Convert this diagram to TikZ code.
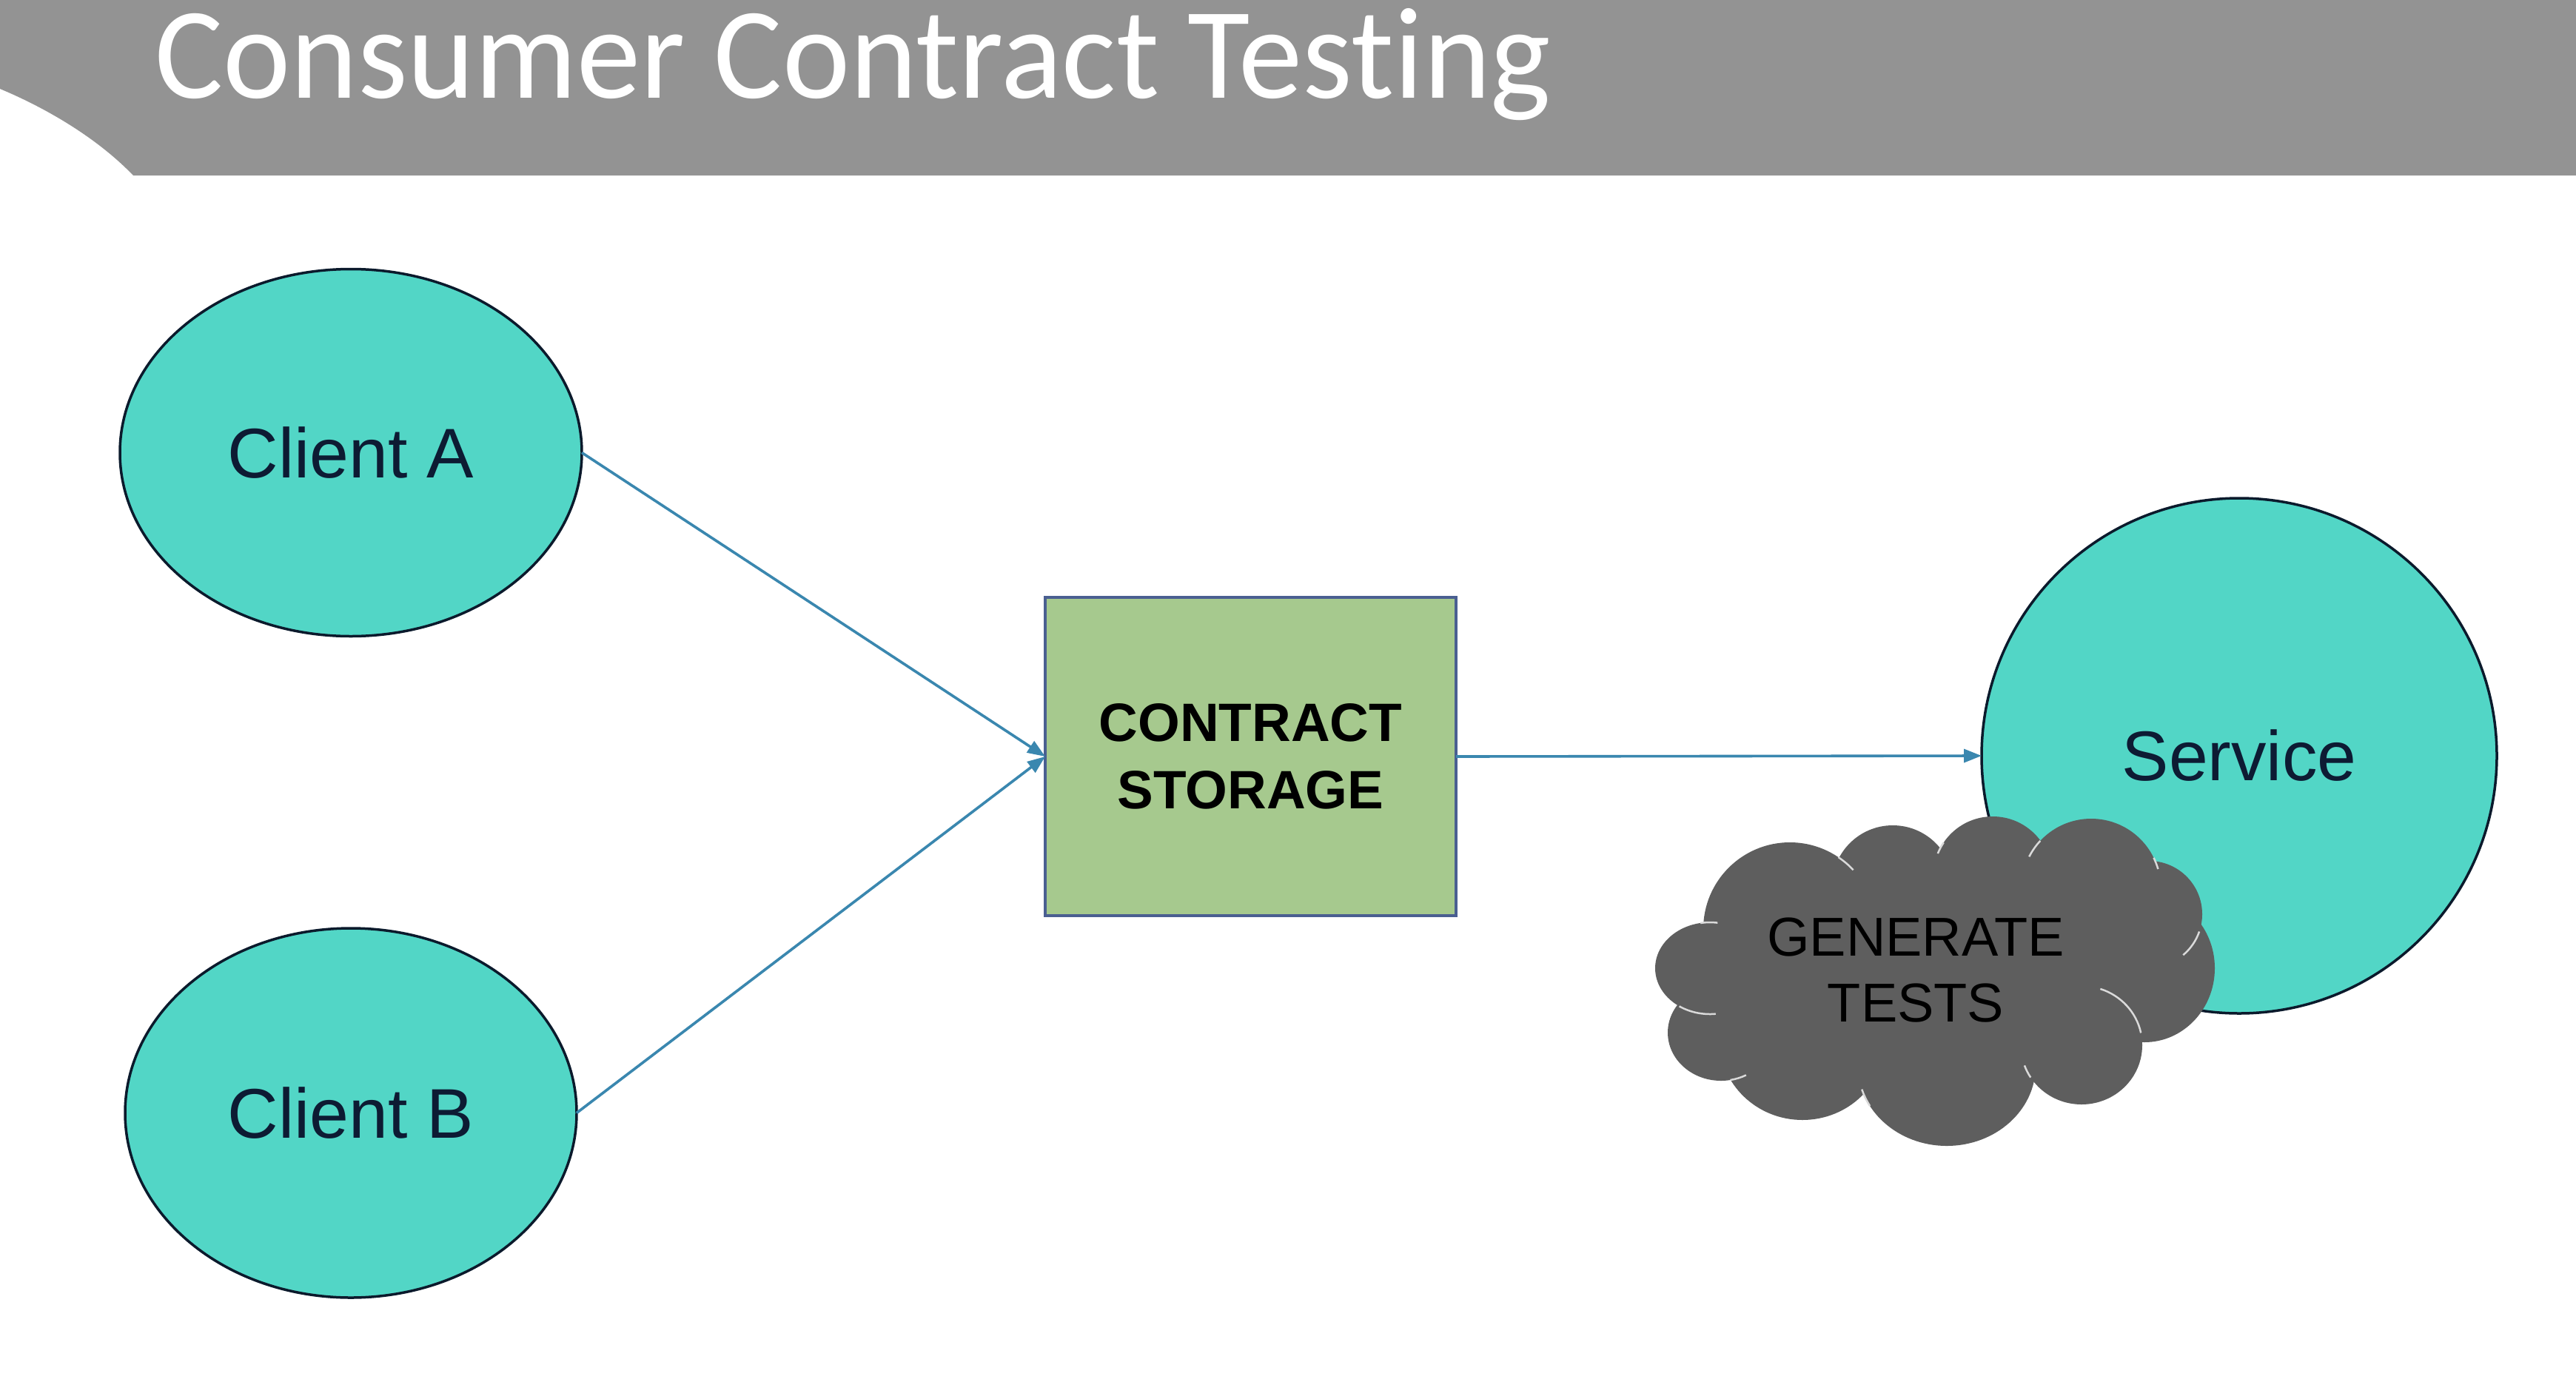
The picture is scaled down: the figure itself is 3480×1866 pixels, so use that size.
\documentclass[tikz,border=0pt]{standalone}
\usepackage{graphicx}
\usepackage{fontspec}
\setmainfont{Liberation Sans}
\newfontfamily\titlefont[Ligatures=NoCommon]{Carlito}
\usetikzlibrary{shapes.geometric,arrows.meta}
\definecolor{band}{HTML}{939393}
\definecolor{tealfill}{HTML}{52D6C6}
\definecolor{navyline}{HTML}{0B1A2C}
\definecolor{navytext}{HTML}{0D1B33}
\definecolor{greenfill}{HTML}{A6C98E}
\definecolor{rectline}{HTML}{4A5F91}
\definecolor{arrowblue}{HTML}{3A87AF}
\definecolor{cloudgray}{HTML}{5E5E5E}
\definecolor{cloudline}{HTML}{DADADA}
\begin{document}
\begin{tikzpicture}[x=1pt,y=-1pt,
  clientnode/.style={ellipse, draw=navyline, line width=3.5pt, fill=tealfill, text=navytext,
    font=\fontsize{95}{114}\selectfont, inner sep=0pt, outer sep=0pt},
  servicenode/.style={circle, draw=navyline, line width=3.5pt, fill=tealfill, text=navytext,
    font=\fontsize{95}{114}\selectfont, inner sep=0pt, outer sep=0pt, minimum size=696pt},
  storagenode/.style={rectangle, draw=rectline, line width=3.5pt, fill=greenfill, text=black,
    minimum width=555pt, minimum height=430pt, align=center, inner sep=0pt, outer sep=0pt,
    font=\bfseries\fontsize{73}{91}\selectfont},
  cloudtext/.style={text=black, align=center, inner sep=0pt, font=\fontsize{74}{89}\selectfont},
  titletext/.style={text=white, inner sep=0pt, font=\titlefont\fontsize{176}{200}\selectfont},
  conn/.style={draw=arrowblue, line width=3.6pt, -{Triangle[length=24pt,width=18pt]}},
  puff/.style={fill=cloudgray},
  innerarc/.style={draw=cloudline, line width=2.5pt}
]
\useasboundingbox[fill=white] (0,0) rectangle (3480,1866);
% header band
\fill[band] (0,0) -- (3480,0) -- (3480,237) -- (180,237)
  .. controls (130,185) and (60,145) .. (0,120) -- cycle;
\node[titletext, anchor=base west] (T) at (209,132) {\scalebox{0.982}[1]{Consumer Contract Testing}};

% nodes
\node[clientnode, minimum width=624pt, minimum height=496pt] (A) at (474,611.5) {Client A};
\node[clientnode, minimum width=610pt, minimum height=499pt] (B) at (474,1503.5) {Client B};
\node[storagenode] (R) at (1689.5,1022) {CONTRACT\\STORAGE};
\node[servicenode] (S) at (3025,1021) {Service};

% cloud (union of puffs)
\fill[puff] (2615,1320) ellipse [x radius=260, y radius=160];
\fill[puff] (2418,1255) circle [radius=117];
\fill[puff] (2557,1197) circle [radius=82];
\fill[puff] (2692,1183) circle [radius=80];
\fill[puff] (2825,1200) circle [radius=94];
\fill[puff] (2903,1235) circle [radius=72];
\fill[puff] (2897,1308) ellipse [x radius=95, y radius=100];
\fill[puff] (2812,1412) ellipse [x radius=82, y radius=80];
\fill[puff] (2630,1440) ellipse [x radius=120, y radius=108];
\fill[puff] (2435,1405) ellipse [x radius=112, y radius=108];
\fill[puff] (2325,1395) ellipse [x radius=72, y radius=65];
\fill[puff] (2310,1308) ellipse [x radius=74, y radius=62];
% inner arcs of the cloud
\draw[innerarc] ([shift={(124:74 and 62)}]2310,1308) arc [start angle=124, end angle=84, x radius=74, y radius=62];
\draw[innerarc] ([shift={(-100:74 and 62)}]2310,1308) arc [start angle=-100, end angle=-82, x radius=74, y radius=62];
\draw[innerarc] ([shift={(-56:117 and 117)}]2418,1255) arc [start angle=-56, end angle=-43, radius=117];
\draw[innerarc] ([shift={(214:80 and 80)}]2692,1183) arc [start angle=214, end angle=202, radius=80];
\draw[innerarc] ([shift={(223:94 and 94)}]2825,1200) arc [start angle=223, end angle=207, radius=94];
\draw[innerarc] ([shift={(-26:94 and 94)}]2825,1200) arc [start angle=-26, end angle=-16, radius=94];
\draw[innerarc] ([shift={(19:72 and 72)}]2903,1235) arc [start angle=19, end angle=50, radius=72];
\draw[innerarc] ([shift={(-72:82 and 80)}]2812,1412) arc [start angle=-72, end angle=-12, x radius=82, y radius=80];
\draw[innerarc] ([shift={(147:82 and 80)}]2812,1412) arc [start angle=147, end angle=160, x radius=82, y radius=80];
\draw[innerarc] ([shift={(150:120 and 108)}]2630,1440) arc [start angle=150, end angle=163, x radius=120, y radius=108];
\draw[innerarc] ([shift={(80:72 and 65)}]2325,1395) arc [start angle=80, end angle=62, x radius=72, y radius=65];
\node[cloudtext] (G) at (2588,1311) {GENERATE\\TESTS};

% connectors
\draw[conn] (A.east) -- (R.west);
\draw[conn] (B.east) -- (R.west);
\draw[conn] (R.east) -- (S.west);
\end{tikzpicture}
\end{document}
